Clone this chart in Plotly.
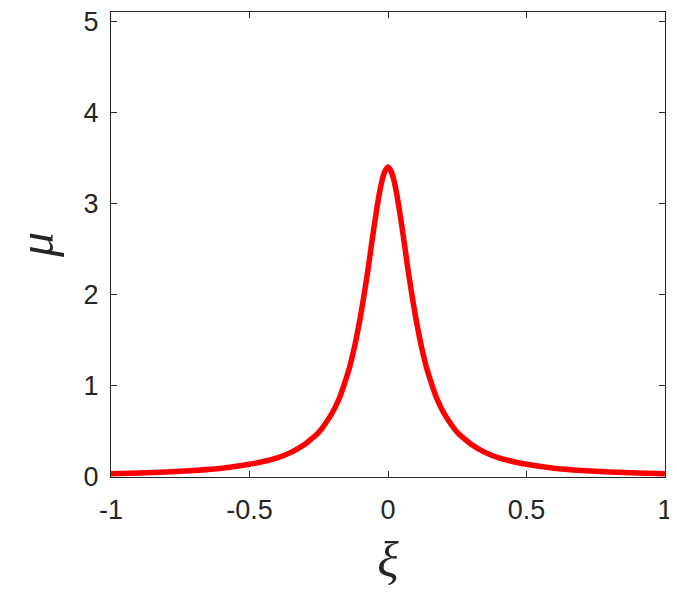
import plotly.graph_objects as go

# xi / mu samples
xi = [-1.0, -0.9, -0.8, -0.7, -0.6, -0.5, -0.45, -0.4, -0.35, -0.3, -0.275, -0.25,
      -0.225, -0.2, -0.175, -0.15, -0.14, -0.13, -0.12, -0.11, -0.1, -0.09, -0.08,
      -0.07, -0.06, -0.05, -0.04, -0.03, -0.02, -0.01, 0.0,
      0.01, 0.02, 0.03, 0.04, 0.05, 0.06, 0.07, 0.08, 0.09, 0.1, 0.11, 0.12,
      0.13, 0.14, 0.15, 0.175, 0.2, 0.225, 0.25, 0.275, 0.3, 0.35, 0.4, 0.45,
      0.5, 0.6, 0.7, 0.8, 0.9, 1.0]
mu = [0.036, 0.044, 0.055, 0.072, 0.097, 0.14, 0.17, 0.21, 0.27, 0.36, 0.42, 0.49,
      0.59, 0.71, 0.87, 1.09, 1.19, 1.31, 1.44, 1.59, 1.75, 1.93, 2.12,
      2.32, 2.54, 2.75, 2.95, 3.13, 3.27, 3.36, 3.40,
      3.36, 3.27, 3.13, 2.95, 2.75, 2.54, 2.32, 2.12, 1.93, 1.75, 1.59, 1.44,
      1.31, 1.19, 1.09, 0.87, 0.71, 0.59, 0.49, 0.42, 0.36, 0.27, 0.21, 0.17,
      0.14, 0.097, 0.072, 0.055, 0.044, 0.036]

x_ticks = [-1, -0.5, 0, 0.5, 1]
x_labels = ["-1", "-0.5", "0", "0.5", "1"]
y_ticks = [0, 1, 2, 3, 4, 5]

axis_col = "#262626"

fig = go.Figure()
fig.add_trace(go.Scatter(
    x=xi, y=mu, mode="lines",
    line=dict(color="#ff0000", width=5.5, shape="spline", smoothing=0.5),
    showlegend=False, hoverinfo="skip",
))

common = dict(
    showline=True, linecolor=axis_col, linewidth=1.3, mirror="ticks",
    ticks="inside", ticklen=6, tickwidth=1.3, tickcolor=axis_col,
    showgrid=False, zeroline=False, automargin=False,
    ticklabeloverflow="allow",
    tickfont=dict(family="Liberation Sans, Arial", size=27, color=axis_col),
)

fig.update_xaxes(
    range=[-1, 1], tickvals=x_ticks, ticktext=x_labels, ticklabelstandoff=8,
    title=dict(text="<i>ξ</i>", standoff=18,
               font=dict(family="Liberation Serif, Times New Roman", size=50, color=axis_col)),
    **common,
)
fig.update_yaxes(
    range=[0, 5.1], tickvals=y_ticks, ticklabelstandoff=6,
    title=dict(text="<i>μ</i>", standoff=14,
               font=dict(family="Liberation Serif, Times New Roman", size=50, color=axis_col)),
    **common,
)

# the page body adds an 8px margin, so the figure is shifted by that much
fig.update_layout(
    width=669, height=594,
    margin=dict(l=103, r=12, t=4, b=125),
    plot_bgcolor="white", paper_bgcolor="white",
)

fig.write_html("out.html")
